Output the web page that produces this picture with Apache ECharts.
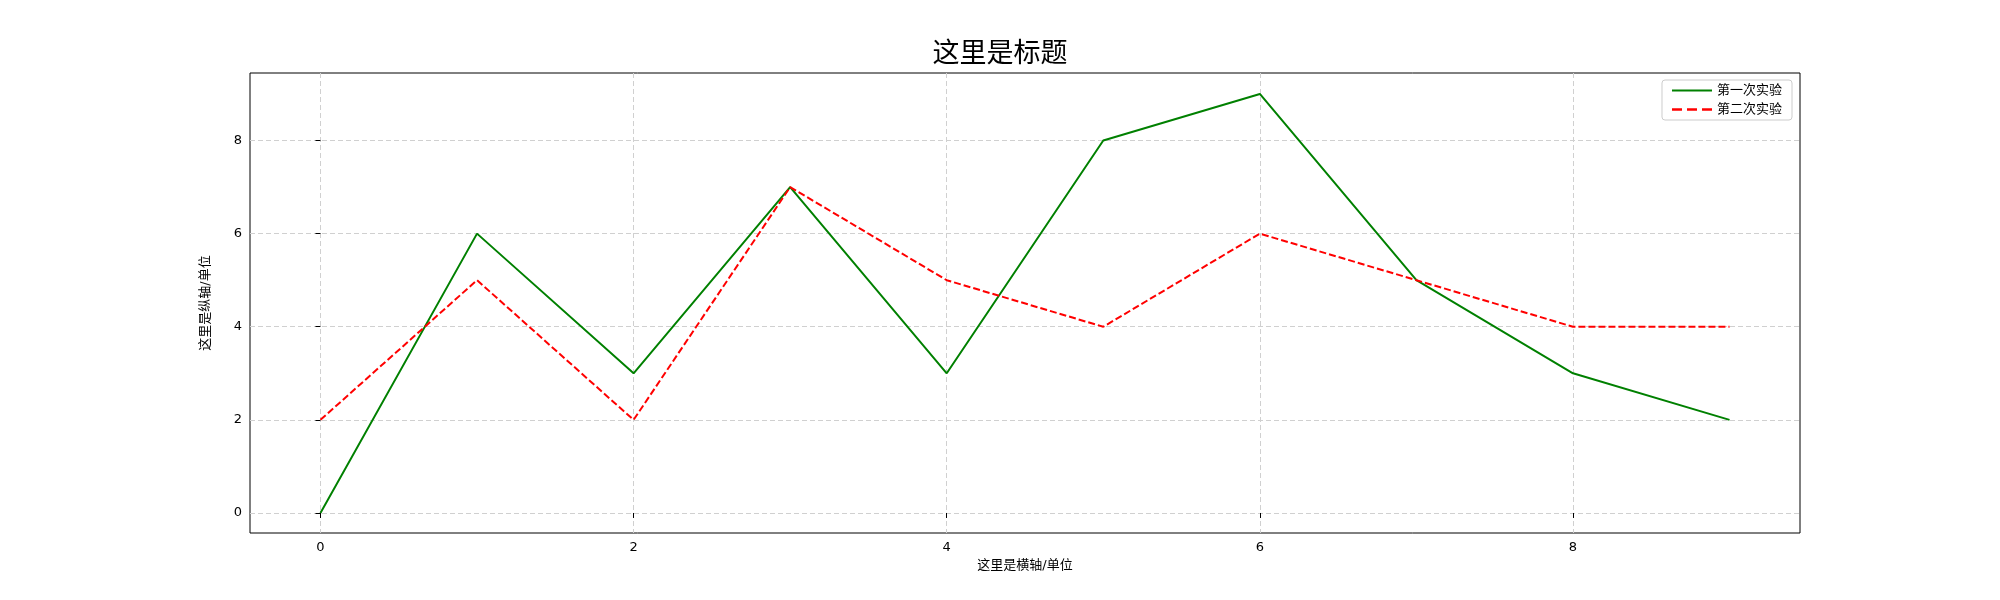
<!DOCTYPE html><html><head><meta charset="utf-8"><script src="https://cdn.jsdelivr.net/npm/echarts@6/dist/echarts.min.js"></script><style>body{margin:0}#c{width:2000px;height:600px}</style></head><body><div id="c"></div><script>
const xs=[0,1,2,3,4,5,6,7,8,9];
const exp1=[0,6,3,7,3,8,9,5,3,2];
const exp2=[2,5,2,7,5,4,6,5,4,4];
const ticks=[0,2,4,6,8];
const f='"DejaVu Sans","Noto Sans CJK SC",sans-serif';
const ch=echarts.init(document.getElementById('c'));
const ax=(min,max,name,gap)=>({type:'value',min,max,name,nameLocation:'middle',nameGap:gap,nameTextStyle:{color:'#000',fontSize:13,fontFamily:f},
 axisLine:{show:false},axisTick:{show:true,customValues:ticks,length:5,lineStyle:{color:'#000'}},
 axisLabel:{customValues:ticks,color:'#000',fontSize:13,fontFamily:f},
 splitLine:{show:true,lineStyle:{color:'#d0d0d0',type:[5,3]}}});
ch.setOption({animation:false,
title:{text:'这里是标题',left:'center',top:36,textStyle:{fontSize:27,fontWeight:'normal',color:'#000',fontFamily:f}},
legend:{right:208,top:80,orient:'vertical',itemWidth:40,itemHeight:10,itemGap:6,padding:[4,10],borderColor:'#ccc',borderWidth:1,borderRadius:3,textStyle:{fontSize:13,fontFamily:f,color:'#000'},
 data:[{name:'第一次实验',icon:'path://M0,4h40v2h-40z'},{name:'第二次实验',icon:'path://M0,4h8v2h-8zM12,4h8v2h-8zM24,4h8v2h-8z'}]},
grid:{left:250,right:200,top:73,bottom:67,show:true,borderColor:'#000',borderWidth:1},
xAxis:ax(-0.45,9.45,'这里是横轴/单位',26),
yAxis:ax(-0.43,9.45,'这里是纵轴/单位',38),
series:[
{name:'第一次实验',type:'line',data:xs.map((x,i)=>[x,exp1[i]]),symbol:'none',lineStyle:{color:'green',width:2},itemStyle:{color:'green'}},
{name:'第二次实验',type:'line',data:xs.map((x,i)=>[x,exp2[i]]),symbol:'none',lineStyle:{color:'red',width:2,type:[7,3]},itemStyle:{color:'red'}}]});
</script></body></html>
